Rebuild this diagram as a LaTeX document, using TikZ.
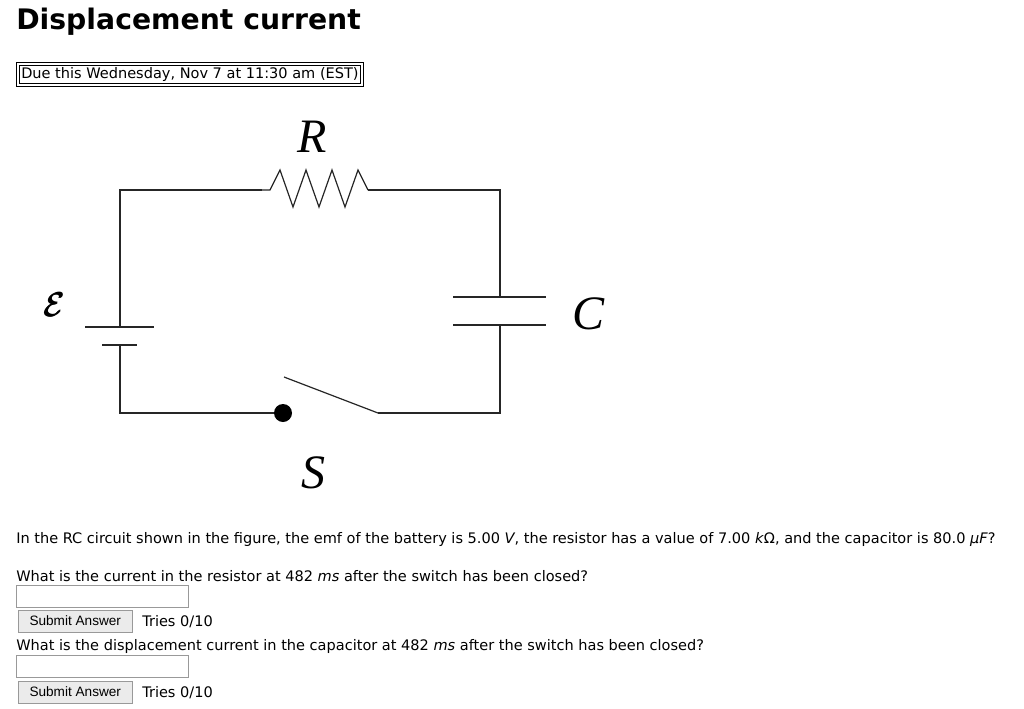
\documentclass[tikz,border=0pt]{standalone}
\usepackage{amsmath}
\usepackage{fontspec}
\setmainfont{DejaVu Sans}
\newfontfamily\serifm{Liberation Serif}
\begin{document}
\begin{tikzpicture}[x=0.75pt,y=-0.75pt,
  wire/.style={draw=black!85,line width=0.9pt},
  txt/.style={anchor=west,inner sep=0pt,font=\fontsize{10.9}{12}\selectfont},
  sym/.style={inner sep=0pt,font=\serifm\itshape\fontsize{36}{40}\selectfont},
  btn/.style={draw=black!40,fill=black!8,inner sep=0pt,minimum width=114*0.75pt,minimum height=22*0.75pt,font=\fontsize{10.2}{12}\selectfont},
  field/.style={draw=black!40,minimum width=172*0.75pt,minimum height=22*0.75pt,inner sep=0pt}]
\useasboundingbox (0,0) rectangle (1024,708);
\node[anchor=west,inner sep=0pt,font=\bfseries\fontsize{21.2}{24}\selectfont] (title) at (16,22) {Displacement current};
\node[draw,anchor=west,inner sep=1.5pt,font=\fontsize{10.9}{12}\selectfont] (due) at (19,74) {Due this Wednesday, Nov 7 at 11:30 am (EST)};
\draw (due.south west) ++(-2.5,2.5) rectangle ([shift={(2.5,-2.5)}]due.north east);
% circuit
\coordinate (tl) at (120,190); \coordinate (tr) at (500,190);
\coordinate (bl) at (120,413); \coordinate (br) at (500,413);
\coordinate (r1) at (262,190); \coordinate (r2) at (368,190);
\coordinate (bp1) at (120,327); \coordinate (bp2) at (120,345);
\coordinate (cp1) at (500,297); \coordinate (cp2) at (500,325);
\coordinate (sw) at (378,413);
\draw[wire] (bp1) -- (tl) -- (r1);
\draw[wire] (r1) -- (270,190) -- (280,170) -- (293,207) -- (306,170) -- (319,207) -- (332,170) -- (345,207) -- (358,170) -- (368,190) -- (r2);
\draw[wire] (r2) -- (tr) -- (cp1);
\draw[wire] (85,327) -- (154,327);
\draw[wire] (102,345) -- (137,345);
\draw[wire] (bp2) -- (bl) -- (283,413);
\draw[wire] (453,297) -- (546,297);
\draw[wire] (453,325) -- (546,325);
\draw[wire] (cp2) -- (br) -- (sw);
\draw[wire] (sw) -- (284,377);
\fill (283,413) circle (9);
\node[sym] (R) at (312,137) {R};
\node[sym] (C) at (588,314) {C};
\node[sym] (S) at (313,473) {S};
\node[inner sep=0pt,font=\fontsize{40}{44}\selectfont] (E) at (55,305) {$\pmb{\mathcal{E}}$};
% text
\node[txt] (q0) at (16,539) {In the RC circuit shown in the figure, the emf of the battery is 5.00 \textit{V}, the resistor has a value of 7.00 \textit{k}Ω, and the capacitor is 80.0 \textit{μF}?};
\node[txt] (q1) at (16,576) {What is the current in the resistor at 482 \textit{ms} after the switch has been closed?};
\node[field,anchor=west] (f1) at (16,596) {};
\node[btn,anchor=west] (b1) at (18,621) {\fontspec{Liberation Sans}Submit Answer};
\node[txt] (t1) at (142,622) {Tries 0/10};
\node[txt] (q2) at (16,646) {What is the displacement current in the capacitor at 482 \textit{ms} after the switch has been closed?};
\node[field,anchor=west] (f2) at (16,666) {};
\node[btn,anchor=west] (b2) at (18,692) {\fontspec{Liberation Sans}Submit Answer};
\node[txt] (t2) at (142,693) {Tries 0/10};
\end{tikzpicture}
\end{document}
